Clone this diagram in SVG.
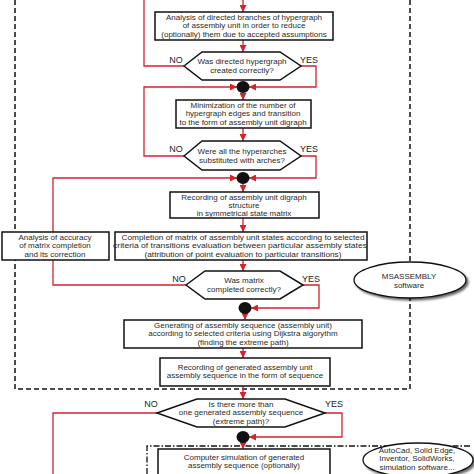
<svg xmlns="http://www.w3.org/2000/svg" width="474" height="474" viewBox="0 0 474 474">
<defs>
<marker id="ah" viewBox="0 0 10 10" refX="10" refY="5" markerWidth="8" markerHeight="7" orient="auto" markerUnits="userSpaceOnUse"><path d="M0,0 L10,5 L0,10 z" fill="#d4232b"/></marker>
<filter id="sh" x="-20%" y="-30%" width="150%" height="170%"><feGaussianBlur in="SourceAlpha" stdDeviation="1"/><feOffset dx="2" dy="2"/><feComponentTransfer><feFuncA type="linear" slope="0.6"/></feComponentTransfer><feMerge><feMergeNode/><feMergeNode in="SourceGraphic"/></feMerge></filter>
</defs>
<style>
.box{fill:#fff;stroke:#111;stroke-width:1.5}
.hex{fill:#fff;stroke:#111;stroke-width:1.5}
.ell{fill:#fff;stroke:#111;stroke-width:1.3}
.t{font-family:"Liberation Sans",Arial,sans-serif;font-size:8px;fill:#2a2a2a;text-anchor:middle}
.lab{font-family:"Liberation Sans",Arial,sans-serif;font-size:9px;fill:#222;text-anchor:middle}
.ln{fill:none;stroke:#d4232b;stroke-width:1.3}
.ar{fill:none;stroke:#d4232b;stroke-width:1.3;marker-end:url(#ah)}
.dot{fill:#111}
.frame{fill:none;stroke:#111;stroke-width:1.5;stroke-dasharray:5,3}
.frame2{fill:none;stroke:#111;stroke-width:1.3;stroke-dasharray:6,2,1.5,2}
</style>
<rect width="474" height="474" fill="#fff"/>
<g id="frames">
<path class="frame" d="M15,0 V389 H410 V0"/>
<path class="frame2" d="M147,474 V446 H470"/>
</g>
<g id="connectors">
<path class="ar" d="M243,0 V12"/>
<path class="ln" d="M184,66 H144 V0"/>
<path class="ar" d="M243,40 V52"/>
<path class="ar" d="M301,66 H316 V87 H249"/>
<path class="ar" d="M184,156 H144 V87 H237"/>
<path class="ar" d="M243,92 V100"/>
<path class="ar" d="M243,128 V141"/>
<path class="ar" d="M301,156 H316 V178 H249"/>
<path class="ar" d="M186,285 H53 V178 H237"/>
<path class="ar" d="M243,183 V192"/>
<path class="ar" d="M243,218 V232"/>
<path class="ar" d="M243,260 V271"/>
<path class="ar" d="M303,285 H319 V308 H251"/>
<path class="ar" d="M245,313 V320"/>
<path class="ar" d="M243,348 V358"/>
<path class="ar" d="M243,386 V399"/>
<path class="ln" d="M157,413 H53 V474"/>
<path class="ar" d="M325,413 H342 V437 H249"/>
<path class="ar" d="M243,442 V449"/>
</g>
<g id="dots">
<ellipse class="dot" cx="243" cy="87" rx="6.5" ry="6"/>
<ellipse class="dot" cx="243" cy="178" rx="6.5" ry="6"/>
<ellipse class="dot" cx="245" cy="308" rx="6.5" ry="6"/>
<ellipse class="dot" cx="243" cy="437" rx="6.5" ry="6"/>
</g>
<g id="box1">
<rect class="box" x="155" y="12" width="178" height="28"/>
<text class="t" x="244" y="20">Analysis of directed branches of hypergraph</text>
<text class="t" x="244" y="28.3">of assembly unit in order to reduce</text>
<text class="t" x="244" y="36.6">(optionally) them due to accepted assumptions</text>
</g>
<g id="dec1">
<polygon class="hex" points="184,66 202,52 280,52 301,66 280,80 202,80"/>
<text class="t" x="242" y="64">Was directed hypergraph</text>
<text class="t" x="242" y="72.5">created correctly?</text>
<text class="lab" x="176" y="63">NO</text>
<text class="lab" x="309" y="63">YES</text>
</g>
<g id="box2">
<rect class="box" x="176" y="100" width="135" height="28"/>
<text class="t" x="243" y="108">Minimization of the number of</text>
<text class="t" x="243" y="116.3">hypergraph edges and transition</text>
<text class="t" x="243" y="124.6">to the form of assembly unit digraph</text>
</g>
<g id="dec2">
<polygon class="hex" points="184,156 202,141 280,141 301,156 280,170 202,170"/>
<text class="t" x="242" y="154">Were all the hyperarches</text>
<text class="t" x="242" y="162.5">substituted with arches?</text>
<text class="lab" x="176" y="152">NO</text>
<text class="lab" x="309" y="152">YES</text>
</g>
<g id="box3">
<rect class="box" x="170" y="192" width="149" height="26"/>
<text class="t" x="244" y="199.5">Recording of assembly unit digraph</text>
<text class="t" x="244" y="207.5">structure</text>
<text class="t" x="244" y="215.5">in symmetrical state matrix</text>
</g>
<g id="box4">
<rect class="box" x="115" y="232" width="252" height="28"/>
<text class="t" x="243" y="240" textLength="243" lengthAdjust="spacingAndGlyphs">Completion of matrix of assembly unit states according to selected</text>
<text class="t" x="240" y="248.3" textLength="254" lengthAdjust="spacingAndGlyphs">criteria of transitions evaluation between particular assembly states</text>
<text class="t" x="243" y="256.6" textLength="197" lengthAdjust="spacingAndGlyphs">(attribution of point evaluation to particular transitions)</text>
</g>
<g id="boxleft">
<rect class="box" x="2" y="232" width="107" height="28"/>
<text class="t" x="55" y="240">Analysis of accuracy</text>
<text class="t" x="55" y="248.3">of matrix completion</text>
<text class="t" x="55" y="256.6">and its correction</text>
</g>
<g id="dec3">
<polygon class="hex" points="186,285 205,271 280,271 303,285 280,299 205,299"/>
<text class="t" x="244" y="283">Was matrix</text>
<text class="t" x="244" y="291.5">completed correctly?</text>
<text class="lab" x="179" y="282">NO</text>
<text class="lab" x="311" y="282">YES</text>
</g>
<g id="ell1">
<ellipse class="ell" cx="410" cy="280" rx="56" ry="18" filter="url(#sh)"/>
<text class="t" x="409" y="279">MSASSEMBLY</text>
<text class="t" x="409" y="287.5">software</text>
</g>
<g id="box5">
<rect class="box" x="124" y="320" width="238" height="28"/>
<text class="t" x="243" y="328">Generating of assembly sequence (assembly unit)</text>
<text class="t" x="243" y="336.3">according to selected criteria using Dijkstra algorythm</text>
<text class="t" x="243" y="344.6">(finding the extreme path)</text>
</g>
<g id="box6">
<rect class="box" x="160" y="358" width="170" height="28"/>
<text class="t" x="245" y="370">Recording of generated assembly unit</text>
<text class="t" x="245" y="378.3">assembly sequence in the form of sequence</text>
</g>
<g id="dec4">
<polygon class="hex" points="157,413 197,399 285,399 325,413 285,427 197,427"/>
<text class="t" x="241" y="407">Is there more than</text>
<text class="t" x="241" y="415.3">one generated assembly sequence</text>
<text class="t" x="241" y="423.6">(extreme path)?</text>
<text class="lab" x="151" y="407">NO</text>
<text class="lab" x="334" y="407">YES</text>
</g>
<g id="box7">
<rect class="box" x="158" y="449" width="172" height="30"/>
<text class="t" x="244" y="460">Computer simulation of generated</text>
<text class="t" x="244" y="468.3">assembly sequence (optionally)</text>
</g>
<g id="ell2">
<ellipse class="ell" cx="418" cy="460" rx="55" ry="17" filter="url(#sh)"/>
<text class="t" x="417" y="453">AutoCad, Solid Edge,</text>
<text class="t" x="417" y="461.3">Inventor, SolidWorks,</text>
<text class="t" x="417" y="469.6">simulation software...</text>
</g>
</svg>
